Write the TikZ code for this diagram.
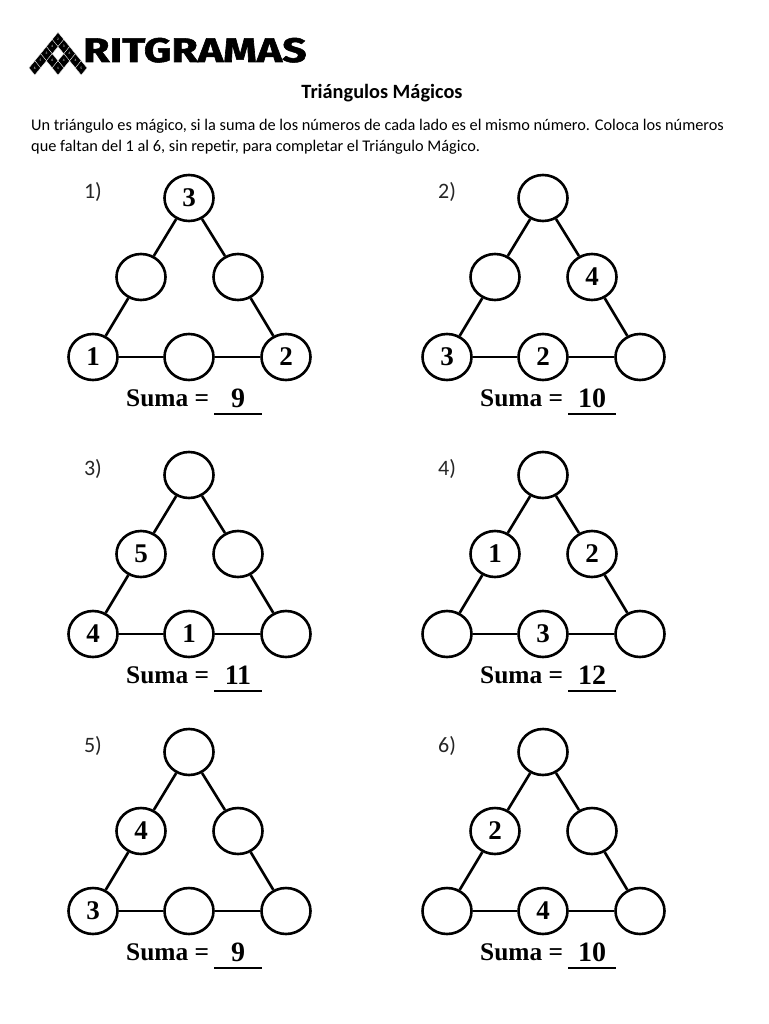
\documentclass[tikz,border=0pt]{standalone}
\usepackage{fontspec}
\setmainfont{Carlito}
\newfontfamily\numfont{Liberation Serif}
\newfontfamily\logofont[FakeBold=1.5]{Fira Sans}
\usetikzlibrary{shapes.geometric}
\tikzset{
  x=1pt,y=-1pt,
  spot/.style={ellipse,draw=black,line width=2.6pt,minimum width=49pt,minimum height=46pt,inner sep=0pt,fill=white,font=\numfont\bfseries\fontsize{27}{27}\selectfont},
  link/.style={draw=black,line width=2.6pt},
  numlabel/.style={font=\fontsize{22}{22}\selectfont,text=black!85,inner sep=0pt},
  sumtext/.style={font=\numfont\bfseries\fontsize{25.4}{25.4}\selectfont,inner sep=0pt},
  sumnum/.style={font=\numfont\bfseries\fontsize{28}{28}\selectfont,inner sep=0pt},
  rule/.style={draw=black,line width=1.8pt},
  cell/.style={diamond,fill=black,draw=white,line width=.3pt,minimum width=11.8pt,minimum height=14.4pt,inner sep=0pt,text=white,font=\fontsize{3.5}{3.5}\selectfont},
  body/.style={font=\fontsize{16.3}{16.3}\selectfont,inner sep=0pt,anchor=base west},
}
\newcommand{\magictri}[9]{%
  \begin{scope}[shift={(#1,#2)}]
    \node[numlabel] (#3l) at (93,192) {#3)};
    \node[spot] (#3a) at (189,198) {#4};
    \node[spot] (#3b) at (141,277) {#5};
    \node[spot] (#3c) at (238,277) {#6};
    \node[spot] (#3d) at (93,357) {#7};
    \node[spot] (#3e) at (189,357) {#8};
    \node[spot] (#3f) at (286,357) {#9};
    \draw[link] (#3a) -- (#3b);
    \draw[link] (#3b) -- (#3d);
    \draw[link] (#3a) -- (#3c);
    \draw[link] (#3c) -- (#3f);
    \draw[link] (#3d) -- (#3e);
    \draw[link] (#3e) -- (#3f);
  \end{scope}}
\newcommand{\magicsum}[4]{%
  \begin{scope}[shift={(#1,#2)}]
    \node[sumtext,anchor=base west] (#3s) at (126,406) {Suma =};
    \node[sumnum,anchor=base] (#3n) at (238,407) {#4};
    \coordinate (#3p) at (214,414);
    \coordinate (#3q) at (262,414);
    \draw[rule] (#3p) -- (#3q);
  \end{scope}}
\begin{document}
\begin{tikzpicture}
\useasboundingbox (0,0) rectangle (768,1024);
\fill[white] (0,0) rectangle (768,1024);
% logo
\foreach \i/\j/\d in {0/0/2,0/1/4,1/0/3,0/2/3,2/0/6,0/3/5,3/0/4,0/4/6,4/0/5,1/2/6,2/1/4,2/2/1}{
  \node[cell] (m\i\j) at ({58+(\i-\j)*5.8},{39.5+(\i+\j)*7.1}) {\d};
}
\node[inner sep=0pt,anchor=base west,font=\logofont\bfseries\fontsize{34}{34}\selectfont] (logo) at (83,62) {\scalebox{1.26}[1]{RITGRAMAS}};
% title
\node[inner sep=0pt,font=\bfseries\fontsize{20.3}{20.3}\selectfont] (title) at (382,93) {Triángulos Mágicos};
\node[body] (p1) at (31,131) {Un triángulo es mágico, si la suma de los números de cada lado es el mismo número. Coloca los números};
\node[body] (p2) at (31,151.5) {que faltan del 1 al 6, sin repetir, para completar el Triángulo Mágico.};
% triangles
\magictri{0}{0}{1}{3}{}{}{1}{}{2}
\magicsum{0}{0}{1}{9}
\magictri{354}{0}{2}{}{}{4}{3}{2}{}
\magicsum{354}{0}{2}{10}
\magictri{0}{277}{3}{}{5}{}{4}{1}{}
\magicsum{0}{277}{3}{11}
\magictri{354}{277}{4}{}{1}{2}{}{3}{}
\magicsum{354}{277}{4}{12}
\magictri{0}{554}{5}{}{4}{}{3}{}{}
\magicsum{0}{554}{5}{9}
\magictri{354}{554}{6}{}{2}{}{}{4}{}
\magicsum{354}{554}{6}{10}
\end{tikzpicture}
\end{document}
